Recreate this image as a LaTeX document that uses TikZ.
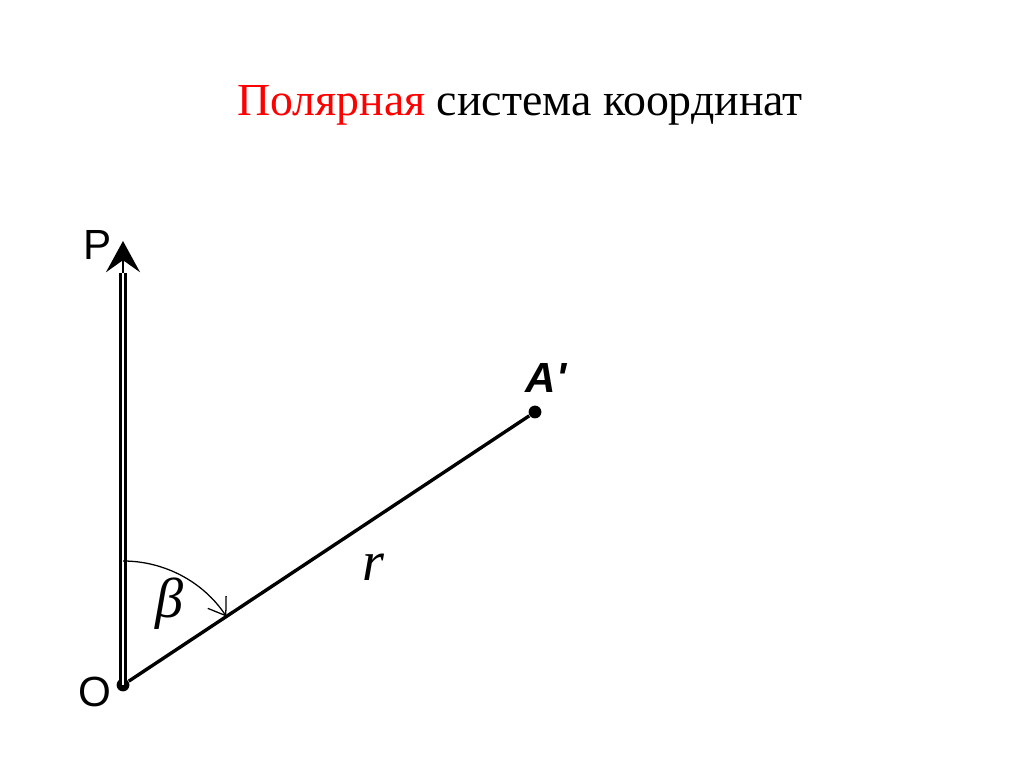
\documentclass[tikz,border=0pt]{standalone}
\usepackage{fontspec}
\setmainfont{Liberation Serif}
\newfontfamily\arialfont{Liberation Sans}
\usepackage{xcolor}
\usetikzlibrary{arrows.meta,positioning,calc}

\tikzset{
  dot/.style={circle, fill=black, inner sep=0pt, minimum size=0.32cm},
  ptlabel/.style={font=\arialfont\fontsize{30}{34}\selectfont, inner sep=0pt},
  mathlabel/.style={font=\fontsize{40}{44}\selectfont\itshape, inner sep=0pt}
}

\begin{document}
\begin{tikzpicture}[x=0.025cm, y=0.025cm, thick]
\useasboundingbox (0,0) rectangle (1024,767);
%%%%% Title %%%%%
\node (title) at (520,662) {\fontsize{32.6}{38}\selectfont\textcolor{red}{Полярная} система координат};
%%%%% Points %%%%%
\node[dot] (O) at (123,82) {};
\node[dot] (A) at (535,355) {};
\coordinate (Ptip) at (123,526);
\coordinate (Pbase) at (123,494);
\node[ptlabel] (lblO) at (95,75) {O};
\node[ptlabel] (lblP) at (98,522) {P};
\node[ptlabel, font=\arialfont\fontsize{30}{34}\selectfont\bfseries\itshape] (lblA) at (546,389) {A'};
%%%%% Axis and radius %%%%%
\draw[double, line width=2pt, double distance=2pt] (O.center) -- (Pbase);
\draw[line width=1.6pt, -{Stealth[length=0.78cm, width=0.85cm, inset=0.3cm]}] (Pbase) -- (Ptip);
\draw[line width=2.4pt] (O) -- (A);
%%%%% Angle %%%%%
\coordinate (betaS) at ($(O)+(90:124)$);
\draw[line width=0.9pt, -{Straight Barb[length=0.4cm, width=0.55cm]}] (betaS) arc[start angle=90, end angle=33.5, radius=124];
\node[mathlabel] (lblbeta) at (170,163) {β};
\node[mathlabel] (lblr) at (373,200) {r};
\end{tikzpicture}
\end{document}
